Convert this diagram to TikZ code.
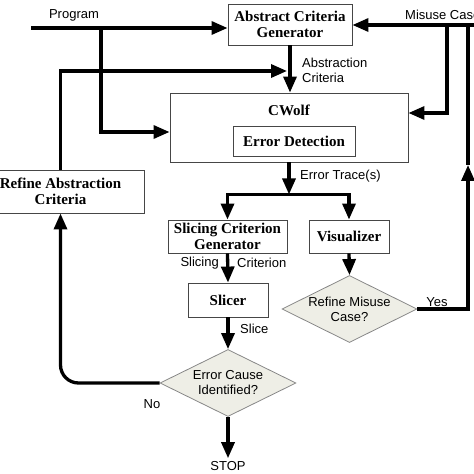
\documentclass[tikz,border=0pt]{standalone}
\usepackage{fontspec}
\setmainfont{Liberation Serif}
\setsansfont{Liberation Sans}
\usetikzlibrary{shapes, arrows.meta, positioning, calc}
\definecolor{edgegray}{RGB}{70, 70, 70}
\definecolor{diamondfill}{RGB}{238, 238, 230}
\definecolor{diamondline}{RGB}{135, 135, 135}
\newcommand{\boxfont}{\fontsize{15bp}{16.5bp}\selectfont\bfseries}
\newcommand{\lblfont}{\sffamily\fontsize{13bp}{15bp}\selectfont}

\begin{document}
\begin{tikzpicture}[x=1bp, y=-1bp,
  box/.style={draw=edgegray, line width=0.9bp, fill=white, inner sep=0pt, align=center, font=\boxfont},
  decision/.style={diamond, draw=diamondline, fill=diamondfill, line width=0.8bp, aspect=2, inner sep=0pt, align=center, font=\lblfont},
  lbl/.style={font=\lblfont, inner sep=0pt, align=left},
  flow/.style={line width=3.3bp, -{Triangle[length=16bp, width=13bp]}},
  wire/.style={line width=3.3bp}]
  \useasboundingbox (0,0) rectangle (474,474);

  % Boxes
  \node[box, minimum width=124bp, minimum height=41bp] (acg) at (290,24.5) {Abstract Criteria\\Generator};
  \node[box, minimum width=238bp, minimum height=69bp] (cwolf) at (289,127.5) {};
  \node[font=\boxfont] (cwolftitle) at (289,110) {CWolf};
  \node[box, minimum width=122bp, minimum height=30bp] (errdet) at (294,141) {Error Detection};
  \node[box, minimum width=167bp, minimum height=43bp] (rac) at (60.5,191.5) {Refine Abstraction\\Criteria};
  \node[box, minimum width=119bp, minimum height=33bp] (scg) at (227.5,236.5) {Slicing Criterion\\Generator};
  \node[box, minimum width=80bp, minimum height=33bp] (vis) at (349,236.5) {Visualizer};
  \node[box, minimum width=80bp, minimum height=34bp] (slicer) at (228,300) {Slicer};

  % Decisions
  \node[decision, minimum width=136bp, minimum height=67bp] (ecid) at (228,383) {Error Cause\\Identified?};
  \node[decision, minimum width=135bp, minimum height=67bp] (rmc) at (349.5,309) {Refine Misuse\\Case?};

  % Inputs at the top
  \coordinate (progin) at (31,28);
  \coordinate (progsplit) at (101,28);
  \coordinate (misin) at (480,25);
  \coordinate (missplit) at (447,25);
  \draw[flow] (progin) -- (progin -| acg.west);
  \draw[flow] (progsplit) |- ($(cwolf.west)+(0,4.5)$);
  \node[lbl] (proglbl) at (74,15) {Program};
  \draw[flow] (misin) -- (misin -| acg.east);
  \draw[flow] (missplit) |- ($(cwolf.east)+(0,-14.5)$);
  \node[lbl, anchor=west] (mislbl) at (405,15) {Misuse Case};

  % Abstraction criteria
  \coordinate (absjoin) at (287,71);
  \draw[flow] (acg.south) -- (acg.south |- cwolf.north);
  \draw[flow] (rac.north) |- (absjoin);
  \node[lbl, anchor=west] (abslbl) at (302,70) {Abstraction\\Criteria};

  % Error traces
  \draw[flow] (cwolf.south) -- ++(0,32) coordinate (tracesplit);
  \draw[flow] (tracesplit) -| (scg.north);
  \draw[flow] (tracesplit) -| (vis.north);
  \node[lbl, anchor=west] (tracelbl) at (300,176) {Error Trace(s)};

  % Slicing branch
  \draw[flow] (scg.south) -- (slicer.north);
  \node[lbl, anchor=east] (slicinglbl) at (219,263) {Slicing};
  \node[lbl, anchor=west] (criterionlbl) at (237,263) {Criterion};
  \draw[flow] (slicer.south) -- (ecid.north);
  \node[lbl, anchor=west] (slicelbl) at (240,329) {Slice};
  \node[lbl] (stop) at (228,466) {STOP};
  \draw[flow, shorten >=3bp] (ecid.south) -- (stop.north);
  \draw[flow, rounded corners=18bp] (ecid.west) -| (rac.south);
  \node[lbl] (nolbl) at (152,404) {No};

  % Visualizer branch
  \coordinate (yesup) at (468,165);
  \draw[flow] (vis.south) -- (rmc.north);
  \draw[flow] (rmc.east) -| (yesup);
  \draw[wire] (yesup) -- (yesup |- misin);
  \node[lbl] (yeslbl) at (437,302) {Yes};
\end{tikzpicture}
\end{document}
